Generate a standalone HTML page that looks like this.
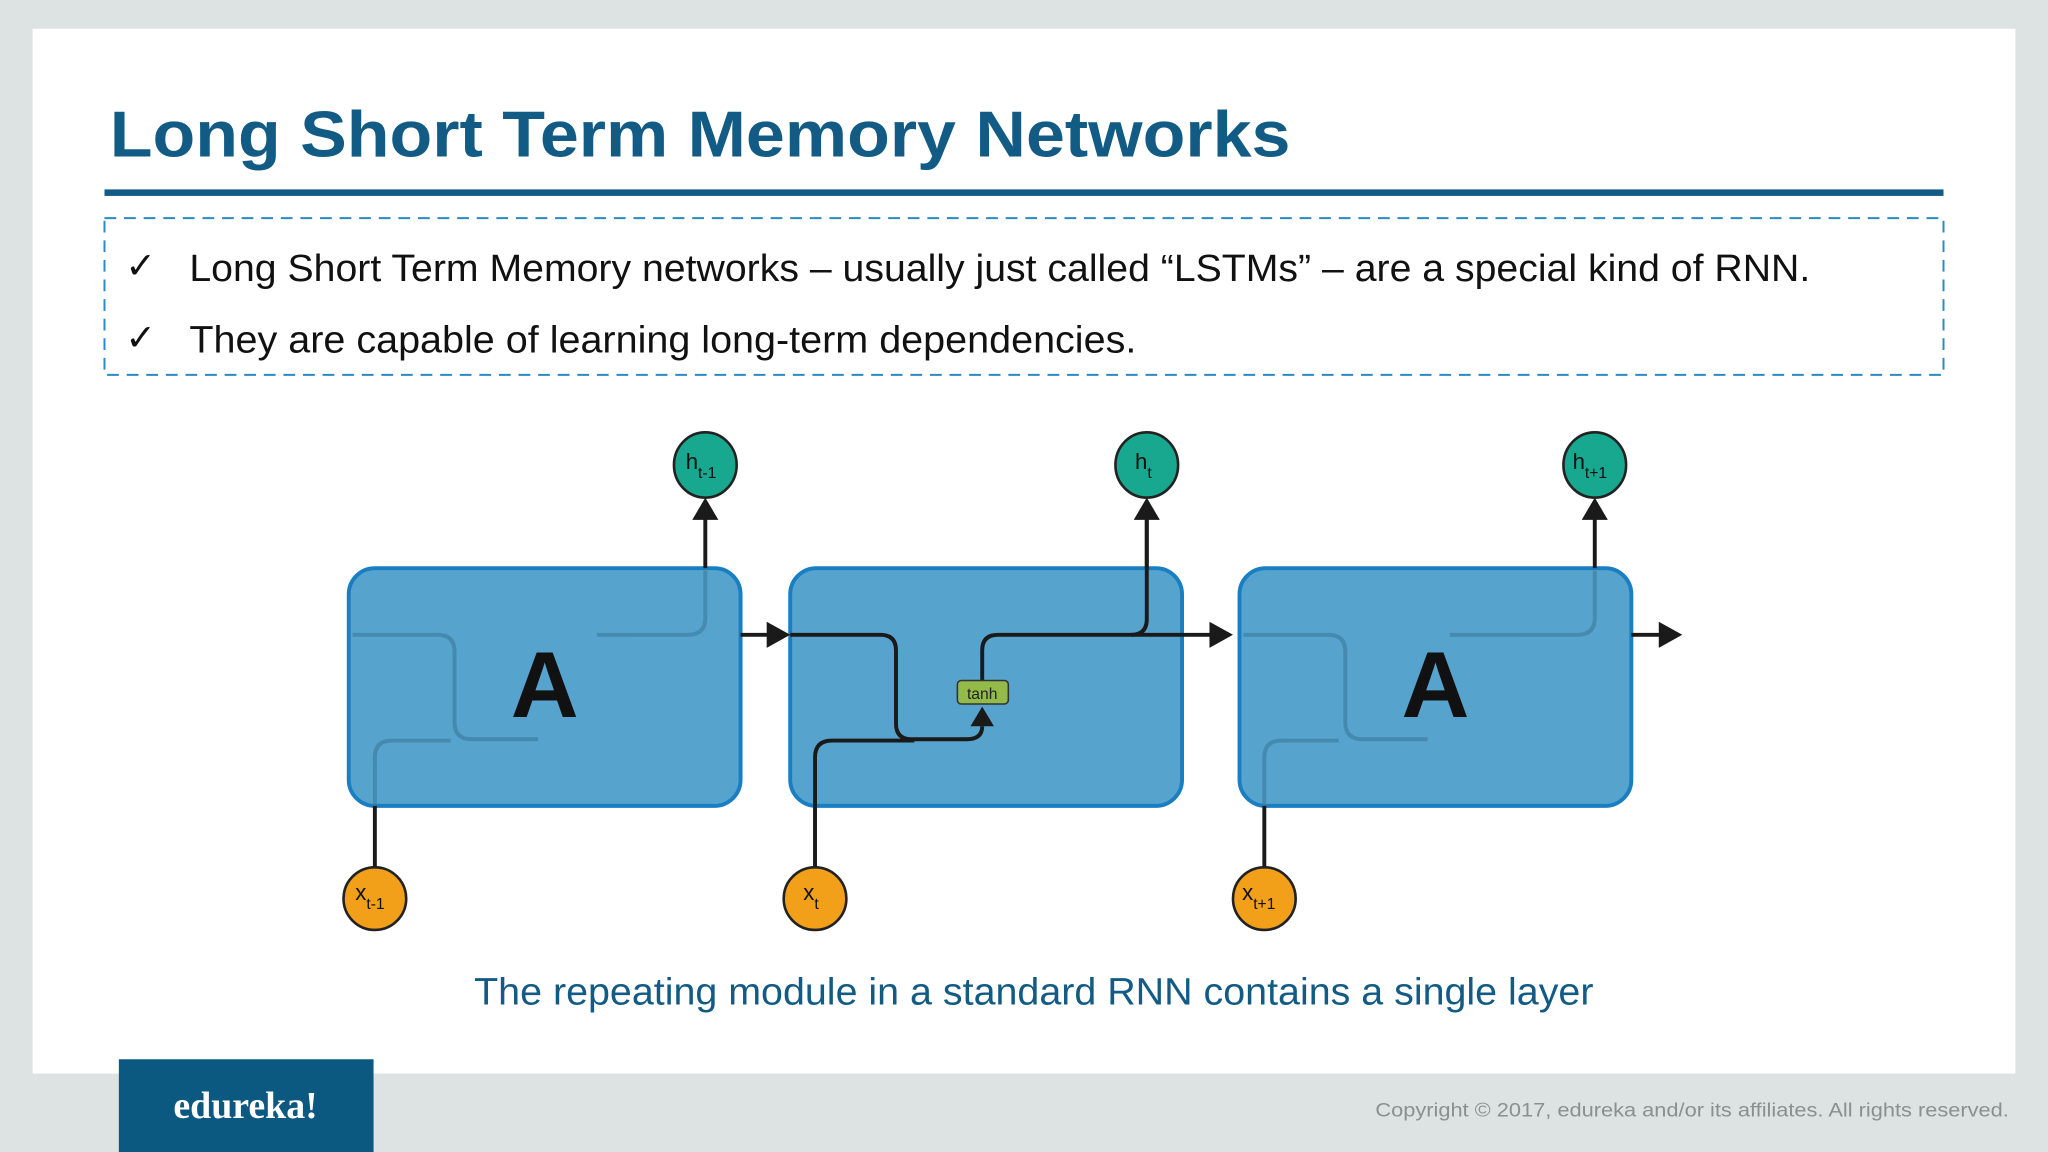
<!DOCTYPE html>
<html><head><style>
html,body{margin:0;padding:0;background:#dde3e2;}
svg{display:block;}
</style></head><body>
<svg width="2048" height="1152" viewBox="0 0 1568 882" xmlns="http://www.w3.org/2000/svg">
<rect width="1568" height="882" fill="#dde3e2"/>
<rect x="25" y="22" width="1518" height="800" fill="#ffffff"/>
<text x="84" y="120" textLength="904" lengthAdjust="spacingAndGlyphs" font-family="Liberation Sans, sans-serif" font-weight="bold" font-size="50" fill="#125b84">Long Short Term Memory Networks</text>
<rect x="80" y="145" width="1408" height="5" fill="#125b84"/>
<rect x="80" y="167" width="1408" height="120" fill="none" stroke="#2b8ac4" stroke-width="1.5" stroke-dasharray="9,6"/>
<g font-family="Liberation Sans, sans-serif" font-size="28" fill="#111">
<text x="96" y="213">✓</text><text x="145" y="215" font-size="29" textLength="1241" lengthAdjust="spacingAndGlyphs">Long Short Term Memory networks – usually just called “LSTMs” – are a special kind of RNN.</text>
<text x="96" y="268">✓</text><text x="145" y="270" font-size="29" textLength="725" lengthAdjust="spacingAndGlyphs">They are capable of learning long-term dependencies.</text>
</g>
<g fill="#56a3cd" stroke="#1a7ec2" stroke-width="3">
<rect x="267" y="435" width="300" height="182" rx="20"/>
<rect x="605" y="435" width="300" height="182" rx="20"/>
<rect x="949" y="435" width="300" height="182" rx="20"/>
</g>
<g fill="none" stroke="#3f7fa3" stroke-width="3" opacity="0.7">
<path d="M270 486 H335 Q348 486 348 499 V553 Q348 566 361 566 H412"/>
<path d="M287 617 V580 Q287 567 300 567 H345"/>
<path d="M457 486 H527 Q540 486 540 473 V437"/>
<path d="M952 486 H1017 Q1030 486 1030 499 V553 Q1030 566 1043 566 H1093"/>
<path d="M968 617 V580 Q968 567 981 567 H1025"/>
<path d="M1110 486 H1208 Q1221 486 1221 473 V437"/>
</g>
<g fill="none" stroke="#1a1a1a" stroke-width="3">
<path d="M540 435 V395"/>
<path d="M878 435 V395"/>
<path d="M1221 435 V395"/>
<path d="M567 486 H590"/>
<path d="M605 486 H674 Q686 486 686 498 V554 Q686 566 698 566 H740 Q752 566 752 556"/>
<path d="M624 665 V580 Q624 567 637 567 H700"/>
<path d="M752 521 V498 Q752 486 764 486 H866 Q878 486 878 474 V395"/>
<path d="M866 486 H930"/>
<path d="M1249 486 H1272"/>
<path d="M287 617 V665"/>
<path d="M968 617 V665"/>
</g>
<g fill="#1a1a1a">
<polygon points="530,398 550,398 540,381"/>
<polygon points="868,398 888,398 878,381"/>
<polygon points="1211,398 1231,398 1221,381"/>
<polygon points="587,476 587,496 605,486"/>
<polygon points="926,476 926,496 944,486"/>
<polygon points="1270,476 1270,496 1288,486"/>
<polygon points="743,556 761,556 752,541"/>
</g>
<rect x="733" y="521" width="39" height="18" rx="3" fill="#92bb4a" stroke="#333" stroke-width="1.2"/>
<text x="752" y="535" text-anchor="middle" font-family="Liberation Sans, sans-serif" font-size="12" fill="#222">tanh</text>
<g font-family="Liberation Sans, sans-serif" font-weight="bold" font-size="72" fill="#111" text-anchor="middle">
<text x="417" y="549">A</text><text x="1099" y="549">A</text>
</g>
<g fill="#17a88f" stroke="#222" stroke-width="2">
<ellipse cx="540" cy="356" rx="24" ry="25"/>
<ellipse cx="878" cy="356" rx="24" ry="25"/>
<ellipse cx="1221" cy="356" rx="24" ry="25"/>
</g>
<g fill="#f29f1a" stroke="#222" stroke-width="2">
<ellipse cx="287" cy="688" rx="24" ry="24"/>
<ellipse cx="624" cy="688" rx="24" ry="24"/>
<ellipse cx="968" cy="688" rx="24" ry="24"/>
</g>
<g font-family="Liberation Sans, sans-serif" font-size="17" fill="#111">
<text x="525" y="359">h<tspan font-size="12" dy="7">t-1</tspan></text>
<text x="869" y="359">h<tspan font-size="12" dy="7">t</tspan></text>
<text x="1204" y="359">h<tspan font-size="12" dy="7">t+1</tspan></text>
<text x="272" y="689">x<tspan font-size="12" dy="7">t-1</tspan></text>
<text x="615" y="689">x<tspan font-size="12" dy="7">t</tspan></text>
<text x="951" y="689">x<tspan font-size="12" dy="7">t+1</tspan></text>
</g>
<text x="363" y="769" textLength="857" lengthAdjust="spacingAndGlyphs" font-family="Liberation Sans, sans-serif" font-size="29" fill="#125b84">The repeating module in a standard RNN contains a single layer</text>
<rect x="91" y="811" width="195" height="71" fill="#0b5880"/>
<text x="188" y="856" text-anchor="middle" font-family="Liberation Serif, serif" font-weight="bold" font-size="29" fill="#fff">edureka!</text>
<text x="1053" y="855" textLength="485" lengthAdjust="spacingAndGlyphs" font-family="Liberation Sans, sans-serif" font-size="15" fill="#8a8f90">Copyright © 2017, edureka and/or its affiliates. All rights reserved.</text>
</svg>
</body></html>
